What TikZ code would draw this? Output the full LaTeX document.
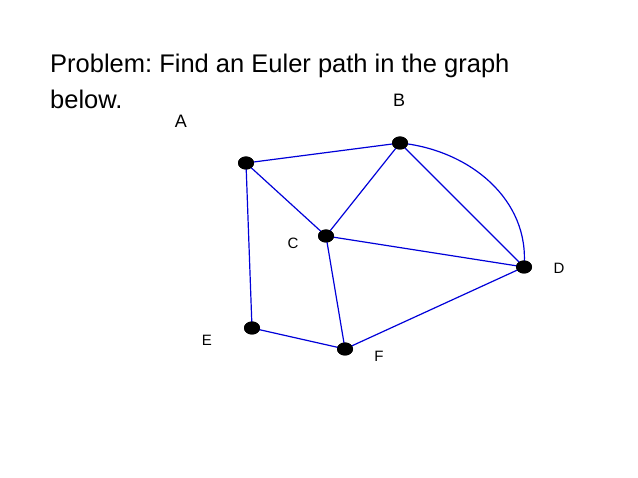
\documentclass[tikz,border=0pt]{standalone}
\usepackage{fontspec}
\setmainfont{Liberation Sans}
\usetikzlibrary{shapes.geometric}
\begin{document}
\frenchspacing
\begin{tikzpicture}[x=1pt,y=-1pt,
  vtx/.style={ellipse,fill=black,minimum width=16pt,minimum height=13pt,inner sep=0pt},
  edge/.style={draw=blue!85!black,line width=1.2pt},
  lbl/.style={font=\fontsize{15}{15}\selectfont}]
\useasboundingbox (0,0) rectangle (638,478);
\node[anchor=west,inner sep=0pt,font=\fontsize{25.5}{30}\selectfont] (t1) at (50,66) {Problem: Find an Euler path in the graph};
\node[anchor=west,inner sep=0pt,font=\fontsize{25.5}{30}\selectfont] (t2) at (50,99) {below.};
\node[vtx] (A) at (246,163) {};
\node[vtx] (B) at (400,143) {};
\node[vtx] (C) at (326,236) {};
\node[vtx] (D) at (524,267) {};
\node[vtx] (E) at (252,328) {};
\node[vtx] (F) at (345,349) {};
\node[font=\fontsize{18}{18}\selectfont] (la) at (181,121) {A};
\node[font=\fontsize{18}{18}\selectfont] (lb) at (399,100) {B};
\node[lbl] (lc) at (293,243) {C};
\node[lbl] (ld) at (559,268) {D};
\node[lbl] (le) at (207,340) {E};
\node[lbl] (lf) at (379,356) {F};
\draw[edge] (A.center) -- (B.center);
\draw[edge] (A.center) -- (C.center);
\draw[edge] (A.center) -- (E.center);
\draw[edge] (B.center) -- (C.center);
\draw[edge] (B.center) -- (D.center);
\draw[edge] (B.center) .. controls (470,150) and (530,200) .. (D.center);
\draw[edge] (C.center) -- (D.center);
\draw[edge] (C.center) -- (F.center);
\draw[edge] (E.center) -- (F.center);
\draw[edge] (F.center) -- (D.center);
\foreach \n in {A,B,C,D,E,F} \node[vtx] at (\n) {};
\end{tikzpicture}
\end{document}
